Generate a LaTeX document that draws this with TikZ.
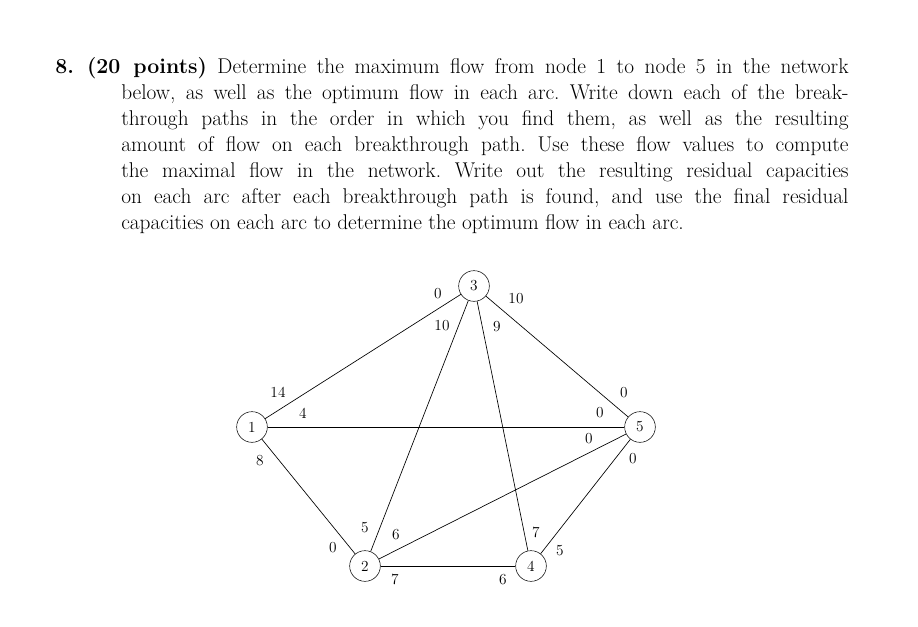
\documentclass[tikz,border=0pt]{standalone}
\begin{document}
\begin{tikzpicture}[x=0.75pt,y=-0.75pt,
  vert/.style={draw,circle,minimum size=23pt,inner sep=0pt,font=\fontsize{11.5}{13}\selectfont},
  lbl/.style={font=\fontsize{11.5}{13}\selectfont,inner sep=0pt},
  edge/.style={draw,line width=0.5pt}]
\useasboundingbox (0,0) rectangle (918,626);
\node[anchor=north west,inner sep=0pt,text width=595pt,align=justify] (txt) at (55,57) {\fontsize{16}{19.5}\selectfont\frenchspacing
\hangindent=49.5pt\hangafter=1\noindent\textbf{8.\ (20 points)} Determine the maximum flow from node 1 to node 5 in the network\linebreak below, as well as the optimum flow in each arc. Write down each of the break-\linebreak through paths in the order in which you find them, as well as the resulting\linebreak amount of flow on each breakthrough path. Use these flow values to compute\linebreak the maximal flow in the network. Write out the resulting residual capacities\linebreak on each arc after each breakthrough path is found, and use the final residual\linebreak capacities on each arc to determine the optimum flow in each arc.\par};
\node[vert] (n1) at (252,427) {1};
\node[vert] (n3) at (474,286) {3};
\node[vert] (n5) at (640,427) {5};
\node[vert] (n2) at (365,566) {2};
\node[vert] (n4) at (531,566) {4};
\draw[edge] (n1)--(n3);
\draw[edge] (n1)--(n5);
\draw[edge] (n1)--(n2);
\draw[edge] (n3)--(n2);
\draw[edge] (n3)--(n4);
\draw[edge] (n3)--(n5);
\draw[edge] (n2)--(n5);
\draw[edge] (n2)--(n4);
\draw[edge] (n4)--(n5);
\node[lbl] (a1) at (438,294) {0};
\node[lbl] (a2) at (516,299) {10};
\node[lbl] (a3) at (442,326) {10};
\node[lbl] (a4) at (497,327) {9};
\node[lbl] (a5) at (278,392) {14};
\node[lbl] (a6) at (303,413) {4};
\node[lbl] (a7) at (260,461) {8};
\node[lbl] (a8) at (624,393) {0};
\node[lbl] (a9) at (600,413) {0};
\node[lbl] (a10) at (589,439) {0};
\node[lbl] (a11) at (633,459) {0};
\node[lbl] (a12) at (365,528) {5};
\node[lbl] (a13) at (396,535) {6};
\node[lbl] (a14) at (333,548) {0};
\node[lbl] (a15) at (395,579) {7};
\node[lbl] (a16) at (536,532) {7};
\node[lbl] (a17) at (560,551) {5};
\node[lbl] (a18) at (503,580) {6};
\end{tikzpicture}
\end{document}
